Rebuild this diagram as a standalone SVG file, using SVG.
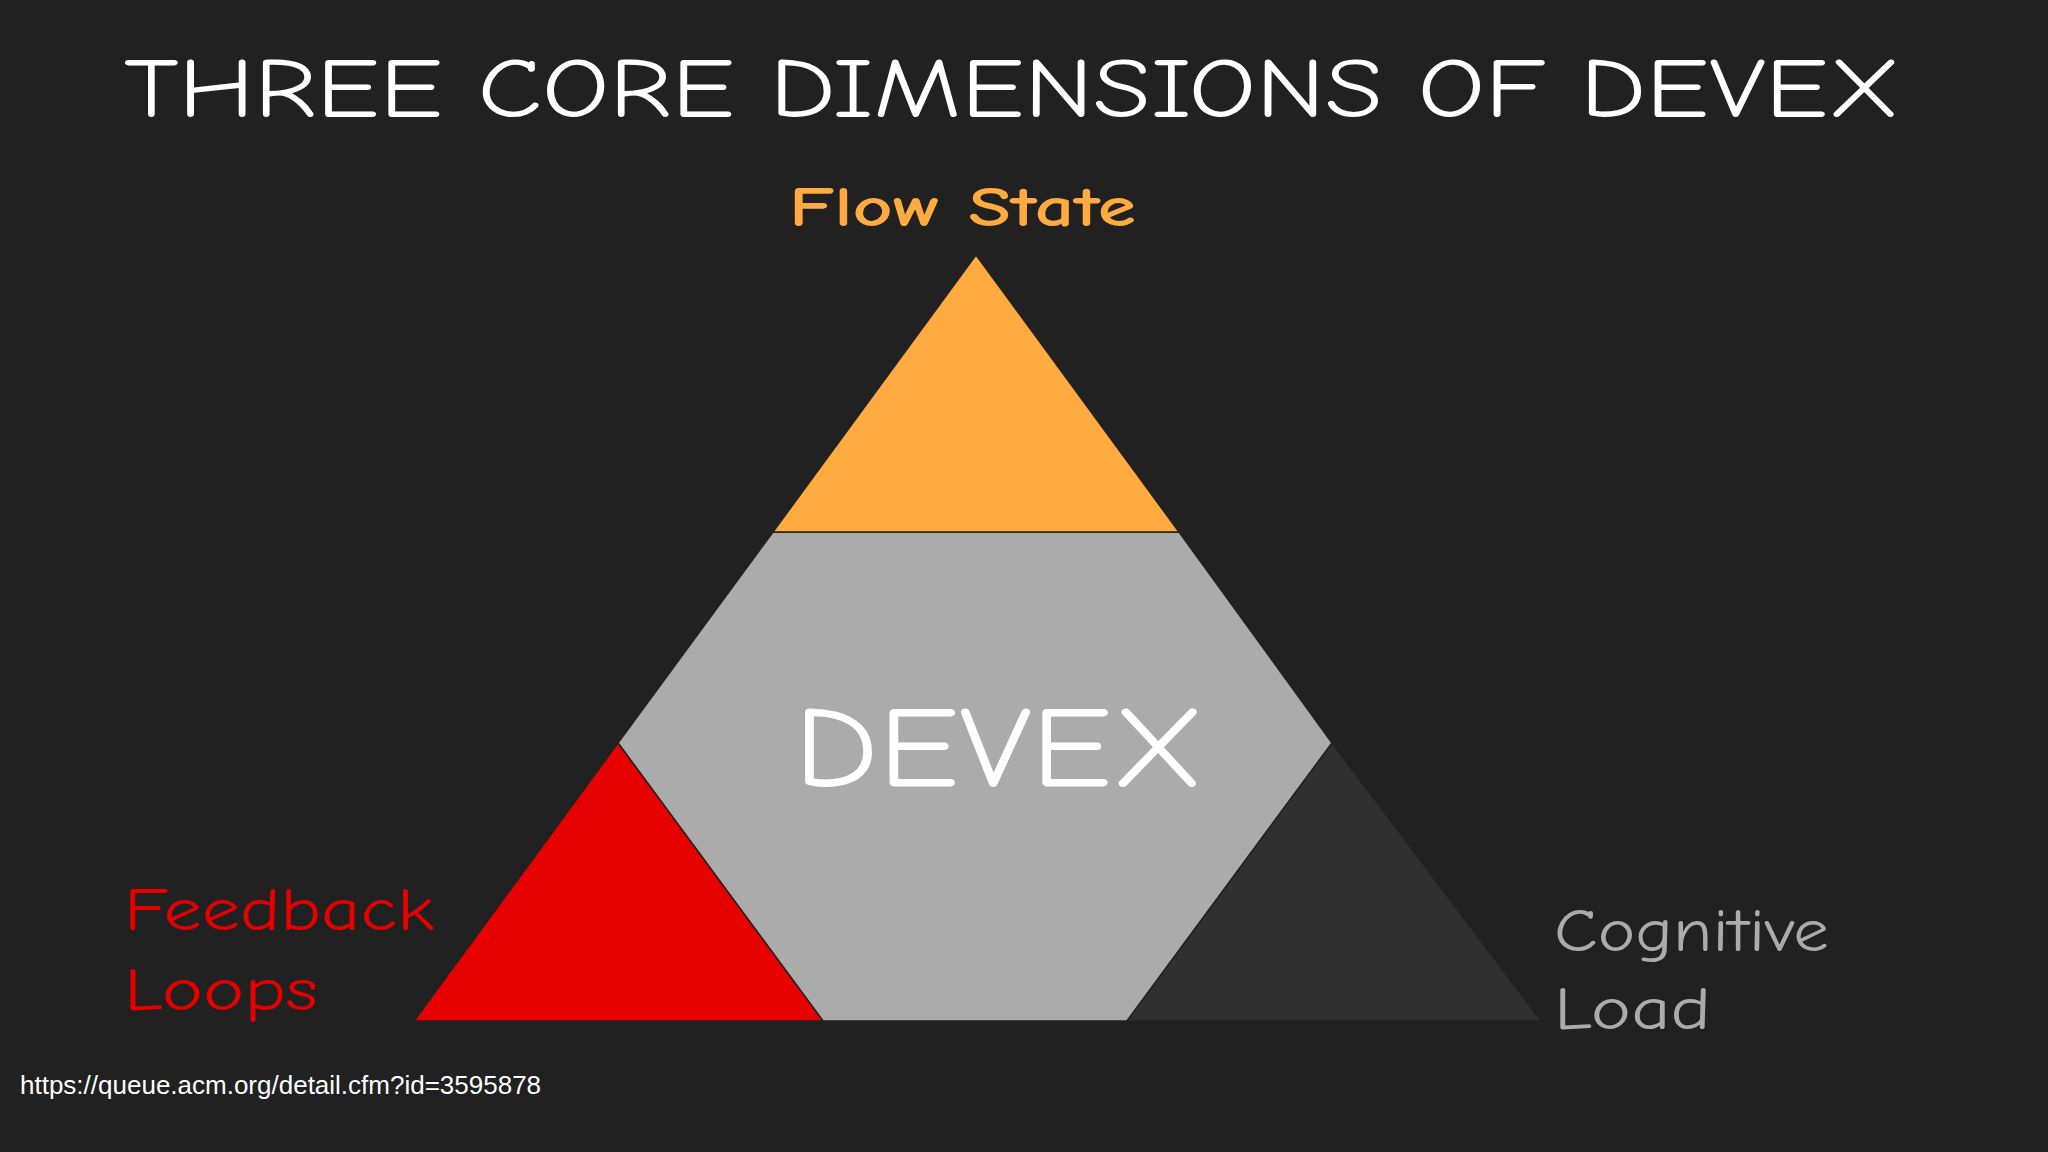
<svg xmlns="http://www.w3.org/2000/svg" width="2048" height="1152" viewBox="0 0 2048 1152">
<style>
.h{font-family:"Comic Neue","Liberation Sans",sans-serif;}
.e{stroke:#222;stroke-width:1.5}
</style>
<rect width="2048" height="1152" fill="#212121"/>
<text class="h" x="124" y="117" font-size="84" fill="#fff" textLength="1776" lengthAdjust="spacingAndGlyphs">THREE CORE DIMENSIONS OF DEVEX</text>
<g id="devex">
<polygon class="e" points="773,532 1179,532 1332,743 1127,1021 823,1021 618,743" fill="#ABABAB"/>
<text class="h" x="794" y="786" font-size="116" fill="#fff" textLength="410" lengthAdjust="spacingAndGlyphs">DEVEX</text>
</g>
<g id="flow">
<polygon class="e" points="976,255 1179,532 773,532" fill="#FFAB40"/>
<text class="h" x="789" y="226" font-size="56" font-weight="bold" fill="#FFAB40" textLength="347" lengthAdjust="spacingAndGlyphs">Flow State</text>
</g>
<g id="feedback">
<polygon class="e" points="618,743 823,1021 414,1021" fill="#E60000"/>
<text class="h" x="124" y="930" font-size="60" fill="#E60000" textLength="310" lengthAdjust="spacingAndGlyphs">Feedback</text>
<text class="h" x="124" y="1010" font-size="60" fill="#E60000" textLength="194" lengthAdjust="spacingAndGlyphs">Loops</text>
</g>
<g id="cognitive">
<polygon class="e" points="1332,743 1541,1021 1127,1021" fill="#303030"/>
<text class="h" x="1554" y="951" font-size="60" fill="#ABABAB" textLength="275" lengthAdjust="spacingAndGlyphs">Cognitive</text>
<text class="h" x="1554" y="1029" font-size="60" fill="#ABABAB" textLength="157" lengthAdjust="spacingAndGlyphs">Load</text>
</g>
<g id="connectors"/>
<text x="20" y="1094" font-family="Liberation Sans,sans-serif" font-size="26" fill="#fff">https://queue.acm.org/detail.cfm?id=3595878</text>
</svg>
